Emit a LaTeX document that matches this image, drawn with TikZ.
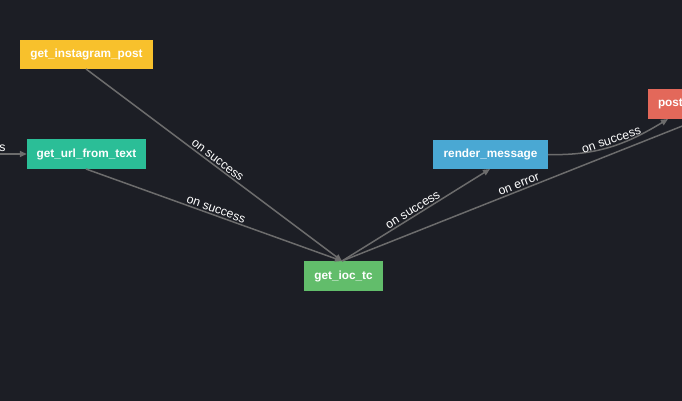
\documentclass[tikz,border=0pt]{standalone}
\usepackage{fontspec}
\setmainfont{Liberation Sans}
\usetikzlibrary{arrows.meta}
\definecolor{bg}{HTML}{1C1E25}
\definecolor{edgec}{HTML}{6C6C6C}
\definecolor{cyellow}{HTML}{F8C12C}
\definecolor{cteal}{HTML}{2BBE97}
\definecolor{cgreen}{HTML}{62BD6B}
\definecolor{cblue}{HTML}{4AA8D3}
\definecolor{cred}{HTML}{E3685A}
\tikzset{
  task/.style={inner sep=0pt, text=white, font=\bfseries\fontsize{11.8}{13}\selectfont, anchor=center},
  conn/.style={draw=edgec, line width=1.5pt, -{Triangle[length=7pt,width=6pt]}},
  lab/.style={sloped, above, inner sep=1.5pt, text=white, font=\fontsize{12.3}{14}\selectfont}
}
\begin{document}
\begin{tikzpicture}[x=1pt, y=-1pt]
\useasboundingbox (0,0) rectangle (682,401);
\fill[bg] (0,0) rectangle (682,401);
\clip (0,0) rectangle (682,401);
% nodes
\node[task, fill=cyellow, minimum width=133pt, minimum height=29pt] (insta) at (86.5,54.5) {get\_instagram\_post};
\node[task, fill=cteal, minimum width=119pt, minimum height=30pt] (url) at (86.5,154) {get\_url\_from\_text};
\node[task, fill=cgreen, minimum width=79pt, minimum height=30pt] (ioc) at (343.5,276) {get\_ioc\_tc};
\node[task, fill=cblue, minimum width=115pt, minimum height=29pt] (render) at (490.5,154.5) {render\_message};
\node[task, fill=cred, minimum width=104pt, minimum height=30pt, text width=84pt, align=left] (post) at (700,104) {post};
% anchor points
\coordinate (ioctop) at (342,261);
\coordinate (instab) at (86,69);
\coordinate (urlb) at (86,169);
\coordinate (renderb) at (490,169);
\coordinate (renderr) at (548,154.5);
\coordinate (postb) at (700,119);
\coordinate (postbl) at (668,119);
\coordinate (left) at (-60,154);
% connectors
\draw[conn] (left) -- node[lab, pos=0.4] {on success} (url.west);
\draw[conn] (instab) -- node[lab] {on success} (ioctop);
\draw[conn] (urlb) -- node[lab] {on success} (ioctop);
\draw[conn] (ioctop) -- node[lab] {on success} (renderb);
\draw[conn] (ioctop) -- node[lab] {on error} (postb);
\draw[conn] (renderr) .. controls (600,156) and (630,142) .. node[lab, pos=0.5] {on success} (postbl);
\end{tikzpicture}
\end{document}
